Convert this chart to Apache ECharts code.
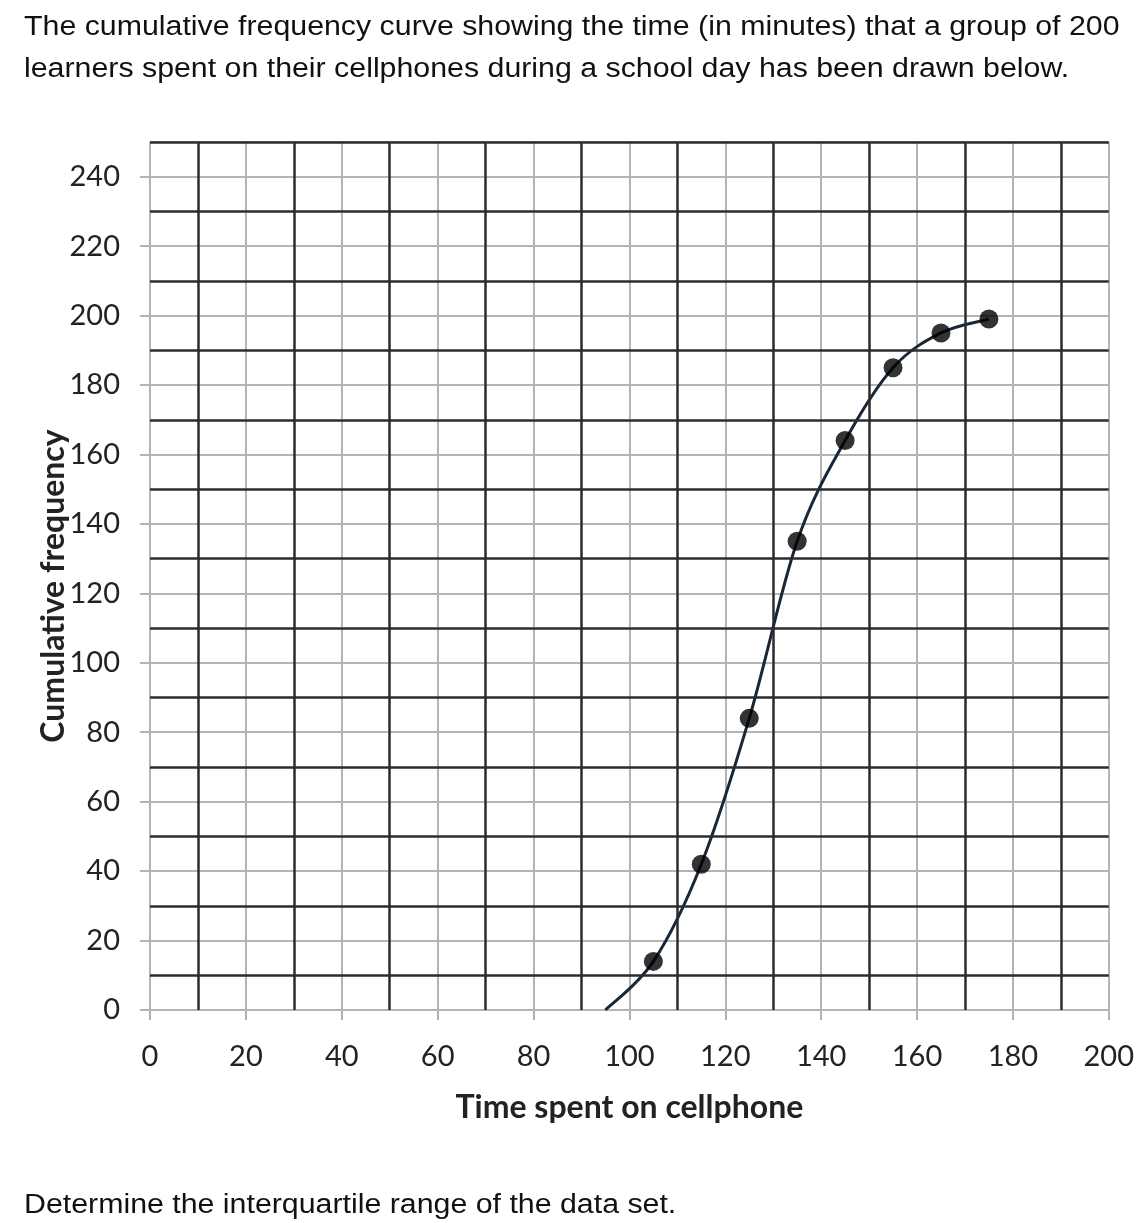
<!DOCTYPE html>
<html style="height: 100%">

<head>
    <meta charset="utf-8">
    <title>Cumulative frequency curve</title>
    <script type="text/javascript" src="https://cdn.jsdelivr.net/npm/echarts@6/dist/echarts.min.js"></script>
</head>

<body style="height: 100%; margin: 0; background: #fff">
    <div id="container" style="width: 1137px; height: 1223px"></div>

    <script type="text/javascript">
        // cumulative frequency points
        var times = [105, 115, 125, 135, 145, 155, 165, 175];
        var cumFreq = [14, 42, 84, 135, 164, 185, 195, 199];
        // the curve begins on the axis at 95 minutes
        var curveStart = [95, 0];

        // heavier grid lines sit halfway between the labelled ones
        var thickX = [10, 30, 50, 70, 90, 110, 130, 150, 170, 190];
        var thickY = [10, 30, 50, 70, 90, 110, 130, 150, 170, 190, 210, 230, 250];

        var titleText = 'The cumulative frequency curve showing the time (in minutes) that a group of 200\nlearners spent on their cellphones during a school day has been drawn below.';
        var questionText = 'Determine the interquartile range of the data set.';

        var curveData = [curveStart];
        for (var i = 0; i < times.length; i++) {
            curveData.push([times[i], cumFreq[i]]);
        }
        var pointData = times.map(function (t, i) { return [t, cumFreq[i]]; });

        var thinColor = '#b4b4b4';
        var thickColor = '#2c2c2c';
        var labelFont = 'Lato, "Open Sans", sans-serif';
        var bodyFont = '27px "Liberation Sans", Arial, sans-serif';

        var markData = [];
        thickX.forEach(function (v) { markData.push({ xAxis: v }); });
        thickY.forEach(function (v) { markData.push({ yAxis: v }); });

        // freehand-looking ogive: catmull-rom spline through the pixel positions
        function renderCurve(params, api) {
            if (params.dataIndex !== 0) return;
            var p = curveData.map(function (d) { return api.coord(d); });
            var path = 'M' + p[0][0] + ' ' + p[0][1];
            for (var k = 0; k < p.length - 1; k++) {
                var p0 = p[k - 1] || p[k];
                var p1 = p[k];
                var p2 = p[k + 1];
                var p3 = p[k + 2] || p2;
                var c1x = p1[0] + (p2[0] - p0[0]) / 6;
                var c1y = p1[1] + (p2[1] - p0[1]) / 6;
                var c2x = p2[0] - (p3[0] - p1[0]) / 6;
                var c2y = p2[1] - (p3[1] - p1[1]) / 6;
                path += ' C' + c1x + ' ' + c1y + ' ' + c2x + ' ' + c2y + ' ' + p2[0] + ' ' + p2[1];
            }
            return {
                type: 'path',
                shape: { pathData: path },
                style: { fill: 'none', stroke: '#182838', lineWidth: 3 }
            };
        }

        var dom = document.getElementById("container");
        var myChart = echarts.init(dom);
        var option = {
            animation: false,
            graphic: [{
                type: 'text',
                x: 24,
                y: 7,
                scaleX: 1.123,
                style: {
                    text: titleText,
                    font: bodyFont,
                    lineHeight: 42,
                    fill: '#111'
                }
            }, {
                type: 'text',
                x: 24,
                y: 1185,
                scaleX: 1.123,
                style: {
                    text: questionText,
                    font: bodyFont,
                    lineHeight: 42,
                    fill: '#111'
                }
            }],
            grid: {
                left: 150,
                right: 24,
                top: 142,
                bottom: 213
            },
            xAxis: {
                type: 'value',
                min: 0,
                max: 200,
                interval: 20,
                name: 'Time spent on cellphone',
                nameLocation: 'middle',
                nameGap: 82,
                nameMoveOverlap: false,
                nameTextStyle: {
                    fontFamily: labelFont,
                    fontWeight: 'bold',
                    fontSize: 32,
                    color: '#222'
                },
                axisLine: { show: false },
                axisTick: { show: true, length: 10, lineStyle: { color: thinColor, width: 2 } },
                axisLabel: {
                    margin: 32,
                    fontFamily: labelFont,
                    fontSize: 29,
                    color: '#222'
                },
                splitLine: { show: true, lineStyle: { color: thinColor, width: 2 } }
            },
            yAxis: {
                type: 'value',
                min: 0,
                max: 250,
                interval: 20,
                name: 'Cumulative frequency',
                nameLocation: 'middle',
                nameGap: 80,
                nameMoveOverlap: false,
                nameTextStyle: {
                    fontFamily: labelFont,
                    fontWeight: 'bold',
                    fontSize: 32,
                    color: '#222',
                    padding: [0, 20, 0, 0]
                },
                axisLine: { show: false },
                axisTick: { show: true, length: 10, lineStyle: { color: thinColor, width: 2 } },
                axisLabel: {
                    margin: 30,
                    showMaxLabel: false,
                    fontFamily: labelFont,
                    fontSize: 29,
                    color: '#222'
                },
                splitLine: { show: true, lineStyle: { color: thinColor, width: 2 } }
            },
            series: [
                {
                    name: 'grid',
                    type: 'line',
                    data: [],
                    silent: true,
                    markLine: {
                        silent: true,
                        symbol: 'none',
                        label: { show: false },
                        lineStyle: { type: 'solid', color: thickColor, width: 2.5 },
                        data: markData
                    }
                },
                {
                    name: 'curve',
                    type: 'custom',
                    renderItem: renderCurve,
                    data: curveData,
                    silent: true
                },
                {
                    name: 'points',
                    type: 'scatter',
                    symbolSize: 19,
                    itemStyle: { color: '#000' },
                    data: pointData
                }
            ]
        };
        myChart.setOption(option, true);
    </script>
</body>

</html>
